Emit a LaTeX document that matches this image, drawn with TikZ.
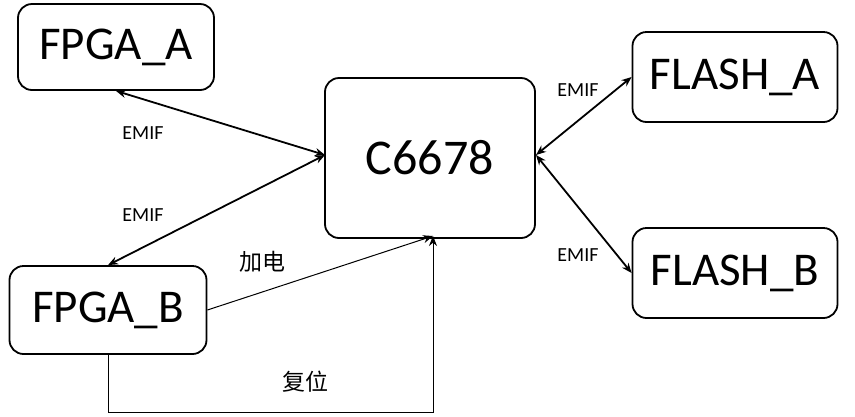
\documentclass[tikz,border=0pt]{standalone}
\usepackage{fontspec}
\setmainfont{Carlito}
\newfontfamily\cjk{Noto Sans CJK SC}
\usetikzlibrary{arrows.meta}
\begin{document}
\begin{tikzpicture}[x=1pt,y=-1pt,
  box/.style={draw,line width=1.8pt,rounded corners=14pt,inner sep=0pt,font=\fontsize{47}{50}\selectfont},
  bi/.style={line width=1.8pt,{Stealth[length=10pt,width=8pt]}-{Stealth[length=10pt,width=8pt]}},
  one/.style={line width=1pt,-{Stealth[length=10pt,width=8pt]}},
  lab/.style={font=\fontsize{20}{22}\selectfont},
  clab/.style={font=\cjk\fontsize{23}{25}\selectfont}]
\useasboundingbox (0,0) rectangle (855,416);
\node[box,minimum width=196pt,minimum height=86pt] (fa) at (116,47) {FPGA\_A};
\node[box,minimum width=210pt,minimum height=160pt,font=\fontsize{50}{54}\selectfont] (c) at (430,158) {C6678};
\node[box,minimum width=205pt,minimum height=90pt] (la) at (735,77) {FLASH\_A};
\node[box,minimum width=205pt,minimum height=90pt] (lb) at (735,273) {FLASH\_B};
\node[box,minimum width=197pt,minimum height=88pt] (fb) at (108,310) {FPGA\_B};
\coordinate (cl) at (325,155);
\coordinate (cr) at (536,155);
\coordinate (cb) at (433,236);
\draw[bi] (fa.south) -- (cl);
\draw[bi] (fb.north) -- (cl);
\draw[bi] (cr) -- (la.west);
\draw[bi] (cr) -- (lb.west);
\draw[one] (fb.east) -- (cb);
\draw[one] (fb.south) -- (108,412) -- (433,412) -- (cb);
\node[lab] at (143,133) {EMIF};
\node[lab] at (143,215) {EMIF};
\node[lab] at (578,90) {EMIF};
\node[lab] at (578,255) {EMIF};
\node[clab] at (262,262) {加电};
\node[clab] at (305,382) {复位};
\end{tikzpicture}
\end{document}
